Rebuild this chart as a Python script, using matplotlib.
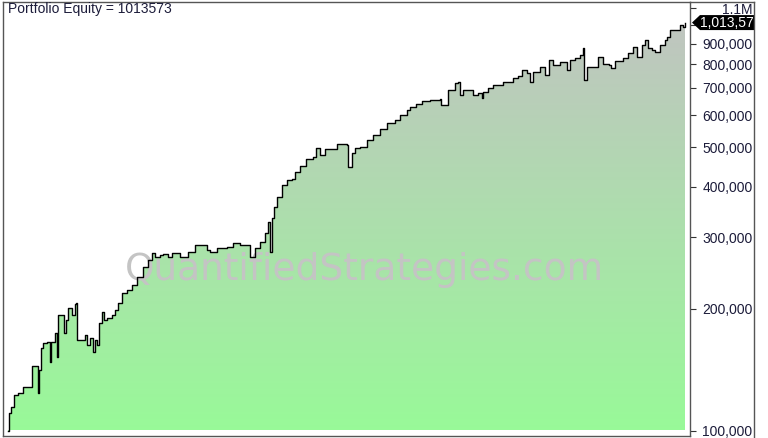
import matplotlib.pyplot as plt
import numpy as np
from matplotlib.colors import LinearSegmentedColormap
from matplotlib.transforms import blended_transform_factory
from matplotlib.patches import Polygon
from matplotlib.lines import Line2D

# equity curve (week number, portfolio equity)
weeks = [0, 1, 3, 6, 10, 15, 23, 24, 28, 30, 31, 33, 35, 39, 42, 43, 47, 49, 50, 55,
         56, 58, 60, 64, 67, 68, 69, 75, 77, 79, 82, 85, 87, 89, 91, 94, 96, 99, 104, 107,
         110, 114, 119, 124, 129, 135, 140, 144, 147, 152, 155, 160, 164, 172, 180, 187, 194, 199, 202, 209,
         219, 225, 232, 240, 242, 247, 252, 257, 260, 262, 264, 266, 269, 274, 279, 284, 287, 292, 298, 305,
         308, 312, 317, 322, 329, 335, 339, 340, 344, 347, 352, 359, 365, 372, 379, 387, 392, 399, 402, 408,
         414, 422, 432, 433, 440, 447, 450, 452, 455, 459, 465, 470, 474, 475, 480, 485, 495, 505, 510, 514,
         519, 522, 525, 532, 537, 541, 545, 552, 559, 562, 567, 572, 575, 576, 579, 587, 590, 595, 601, 603,
         607, 615, 620, 625, 629, 634, 637, 640, 644, 647, 652, 657, 659, 662, 667, 672, 675, 677]
equity = [100000, 110700, 114600, 122600, 124000, 128400, 128400, 144600, 144600, 124000,
          141300, 160100, 164700, 165600, 147900, 165600, 174300, 152100, 193100, 193100,
          174300, 187600, 200900, 193100, 205500, 206700, 167500, 167500, 172400, 162800,
          169400, 156500, 167500, 163000, 184500, 196400, 187600, 189800, 193100, 198600,
          206700, 218700, 222500, 228900, 239500, 253400, 263700, 274400, 268300, 271300,
          272900, 268300, 274400, 268300, 276000, 287200, 287200, 279200, 276000, 282300,
          283900, 290400, 287200, 287200, 268300, 282300, 292100, 307400, 327200, 276000,
          334700, 356200, 377000, 403600, 415200, 417600, 434600, 449600, 467700, 473100,
          497700, 478500, 495000, 495000, 509200, 509200, 506300, 446900, 483900, 497700,
          500600, 520900, 535900, 554400, 573600, 583400, 600200, 617500, 628100, 638900,
          649900, 653600, 657300, 635300, 691800, 719700, 723800, 672400, 691800, 691800,
          672400, 680000, 660900, 683900, 699600, 711600, 723800, 740500, 748800, 774800,
          761700, 723800, 766000, 788200, 753000, 819900, 797000, 810700, 774800, 819900,
          829300, 843600, 877700, 732100, 788200, 788200, 834100, 801500, 797000, 783700,
          815200, 829300, 853100, 882900, 834100, 892900, 918300, 877700, 867800, 857900,
          892900, 918300, 934100, 972100, 972100, 1000000, 988600, 1013573]
final_equity = 1013573

tick_values = [100000, 200000, 300000, 400000, 500000, 600000, 700000, 800000, 900000, 1000000, 1100000]
# the 1,000,000 label sits under the last-value marker, so it is left blank
tick_labels = ['100,000', '200,000', '300,000', '400,000', '500,000', '600,000', '700,000',
               '800,000', '900,000', '', '1.1M']

W, H = 768, 438
fig = plt.figure(figsize=(W / 100, H / 100), dpi=100)
ax = fig.add_axes([2.5 / W, (H - 436) / H, (690 - 2.5) / W, (436 - 1.7) / H])
ax.set_yscale('log')

x = np.array(weeks)
y = np.array(equity)

# gradient fill under the curve (silver on top, pale green at the bottom)
fill = ax.fill_between(x, 100300, y, step='post', facecolor='none', edgecolor='none')
grad = np.linspace(0, 1, 256).reshape(-1, 1)
cmap = LinearSegmentedColormap.from_list('eq', ['#c2c2c2', '#98fa98'])
img = ax.imshow(grad, cmap=cmap, aspect='auto', extent=[0, 1, 0, 1],
                transform=ax.transAxes, origin='upper', zorder=1)
img.set_clip_path(fill.get_paths()[0], transform=ax.transData)

ax.text(0.527, 0.359, 'QuantifiedStrategies.com', transform=ax.transAxes,
        ha='center', va='baseline', fontsize=27, color='#c4c4c4', zorder=2)

ax.plot(x, y, drawstyle='steps-post', color='black', lw=1, zorder=3)

ax.set_xlim(-5.5, 682)
ax.set_ylim(97200, 1141000)

ax.set_xticks([])
ax.yaxis.tick_right()
ax.set_yticks(tick_values)
ax.set_yticklabels(tick_labels)
ax.minorticks_off()
ax.tick_params(axis='y', length=4, width=0.8, pad=41, labelsize=10,
               labelcolor='#1c1c3a', color='#333333')
for lab in ax.get_yticklabels():
    lab.set_ha('right')
    lab.set_fontfamily('Liberation Sans')
for sp in ax.spines.values():
    sp.set_color('#555555')
    sp.set_linewidth(1)

ax.text(6 / 687.5, 1 - 11 / 434.3, 'Portfolio Equity = 1013573', transform=ax.transAxes,
        ha='left', va='baseline', fontsize=10, family='Liberation Sans', color='#1c1c3a')

# frame round the value scale
fig.add_artist(Line2D([690 / W, 754 / W], [1 - 1.7 / H, 1 - 1.7 / H], color='#555555', lw=1))
fig.add_artist(Line2D([754 / W, 754 / W], [0, 1 - 1.7 / H], color='#555555', lw=1))

# last value marker on the scale
lab_ax = fig.add_axes([690 / W, (H - 436) / H, 64 / W, (436 - 1.7) / H])
lab_ax.set_axis_off()
tr = blended_transform_factory(lab_ax.transAxes, ax.transData)
half = 10 ** (7.5 / 406)
poly = Polygon([[2 / 64, final_equity], [10 / 64, final_equity * half], [1.2, final_equity * half],
                [1.2, final_equity / half], [10 / 64, final_equity / half]],
               closed=True, facecolor='black', edgecolor='none', transform=tr)
lab_ax.add_patch(poly)
t = lab_ax.text(10 / 64, final_equity, f'{final_equity:,}', transform=tr, ha='left', va='center',
                fontsize=10, family='Liberation Sans', color='white')
t.set_clip_on(True)

fig.savefig('out.png', dpi=100)
